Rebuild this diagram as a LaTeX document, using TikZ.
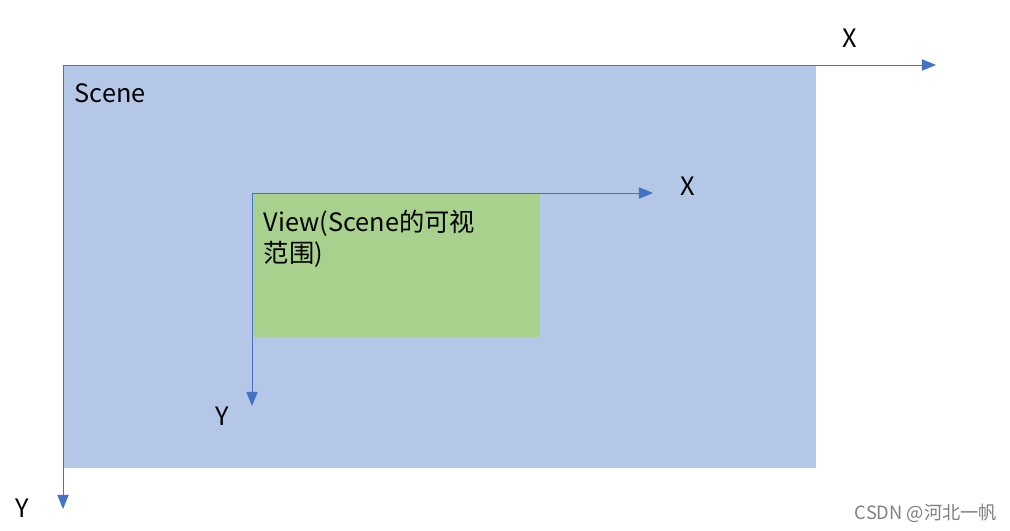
\documentclass[tikz,border=0pt]{standalone}
\usepackage{fontspec}
\setmainfont{Noto Sans CJK SC}
\usepackage{xcolor}
\usepackage{tikz}
\usetikzlibrary{positioning,arrows.meta}
\definecolor{scenecol}{HTML}{B4C7E7}
\definecolor{viewcol}{HTML}{A9D18E}
\definecolor{axiscol}{HTML}{4472C4}

\begin{document}
\begin{tikzpicture}[every node/.style={font=\fontsize{7.2}{9}\selectfont, inner sep=0pt},
    axis/.style={-{Triangle[length=4pt,width=3.2pt]}, axiscol, line width=0.28pt}]
   % Canvas (always first!)
   \useasboundingbox[fill=white] (0,0) rectangle (10.10,5.31);
    % Scene and view
    \fill[scenecol] (0.63,0.63) rectangle (8.16,4.66);
    \fill[viewcol] (2.52,1.94) rectangle (5.40,3.38);
    \coordinate (sceneO) at (0.63,4.66);
    \coordinate (viewO) at (2.52,3.38);
    \coordinate (sceneX) at (9.36,4.66);
    \coordinate (sceneY) at (0.63,0.22);
    \coordinate (viewX) at (6.53,3.38);
    \coordinate (viewY) at (2.52,1.25);
    % Axes
    \draw[axis] (sceneO) -- (sceneX);
    \draw[axis] (sceneO) -- (sceneY);
    \draw[axis] (viewO) -- (viewX);
    \draw[axis] (viewO) -- (viewY);
    % Labels
    \node (sceneXlab) at (8.50,4.93) {X};
    \node (sceneYlab) at (0.22,0.23) {Y};
    \node (viewXlab) at (6.88,3.45) {X};
    \node (viewYlab) at (2.22,1.15) {Y};
    \node[anchor=north west] (scenelab) at (0.74,4.48) {Scene};
    \node[anchor=north west, align=left] (viewlab) at (2.63,3.22) {View(Scene的可视\\范围)};
    % Watermark
    \node[gray, font=\fontsize{5.2}{6}\selectfont] (mark) at (9.26,0.18) {CSDN @河北一帆};
\end{tikzpicture}
\end{document}
